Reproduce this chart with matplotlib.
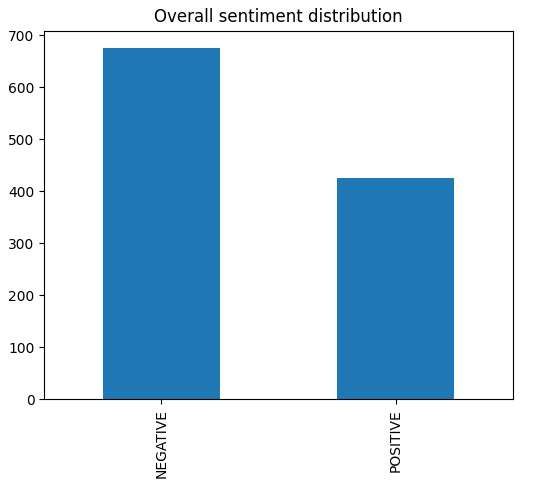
import matplotlib
matplotlib.use('Agg')
import matplotlib.pyplot as plt
import pandas as pd

sentiments = ['NEGATIVE', 'POSITIVE']
counts = [675, 425]

fig = plt.figure(figsize=(5.52, 4.88), dpi=100)
ax = fig.add_axes([44.3 / 552, (488 - 399.3) / 488, (512.7 - 44.3) / 552, (399.3 - 30.7) / 488])

pd.Series(counts, index=sentiments).plot(kind='bar', ax=ax, color='#1f77b4')
ax.set_title('Overall sentiment distribution')

fig.savefig('out.png', dpi=100)
